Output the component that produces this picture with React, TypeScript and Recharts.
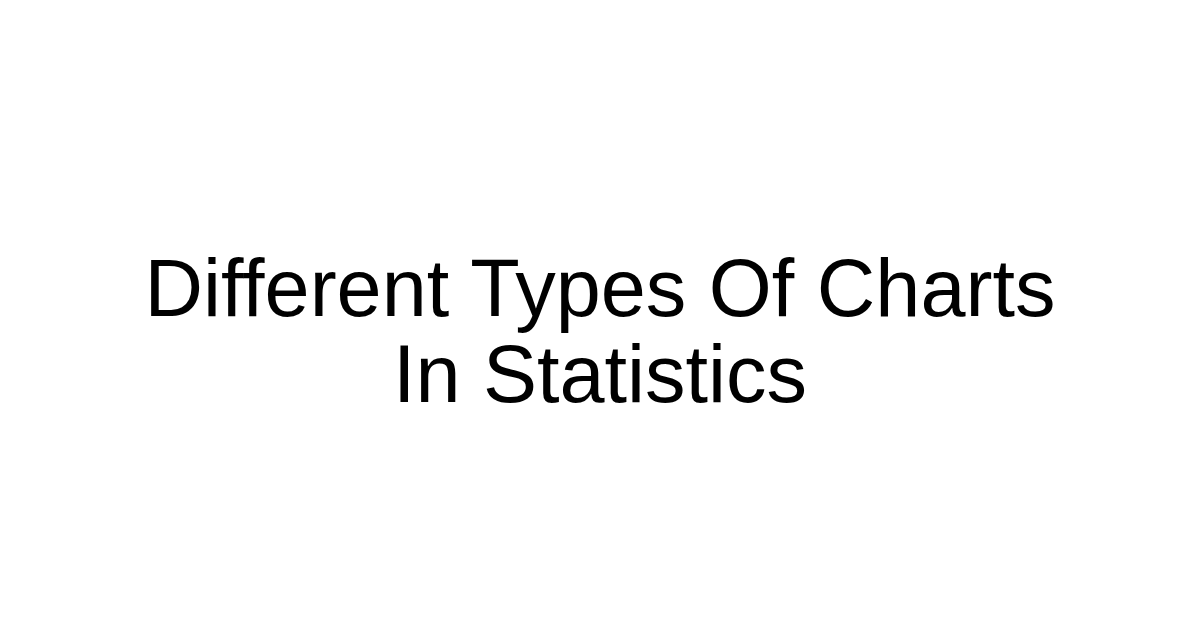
import React from 'react';
import { Surface, Text } from 'recharts';

// the picture holds only a two-line title, no marks
const titleLines = ['Different Types Of Charts', 'In Statistics'];
const baselines = [316, 402];

export default function App() {
  return (
    <div style={{ position: 'absolute', left: 0, top: 0, width: 1200, height: 630, background: '#fff' }}>
      <Surface width={1200} height={630}>
        {titleLines.map((line, i) => (
          <Text
            key={line}
            x={600}
            y={baselines[i]}
            textAnchor="middle"
            verticalAnchor="end"
            fontFamily="'Liberation Sans', Arial, sans-serif"
            fontSize={81}
            fill="#000"
          >
            {line}
          </Text>
        ))}
      </Surface>
    </div>
  );
}
